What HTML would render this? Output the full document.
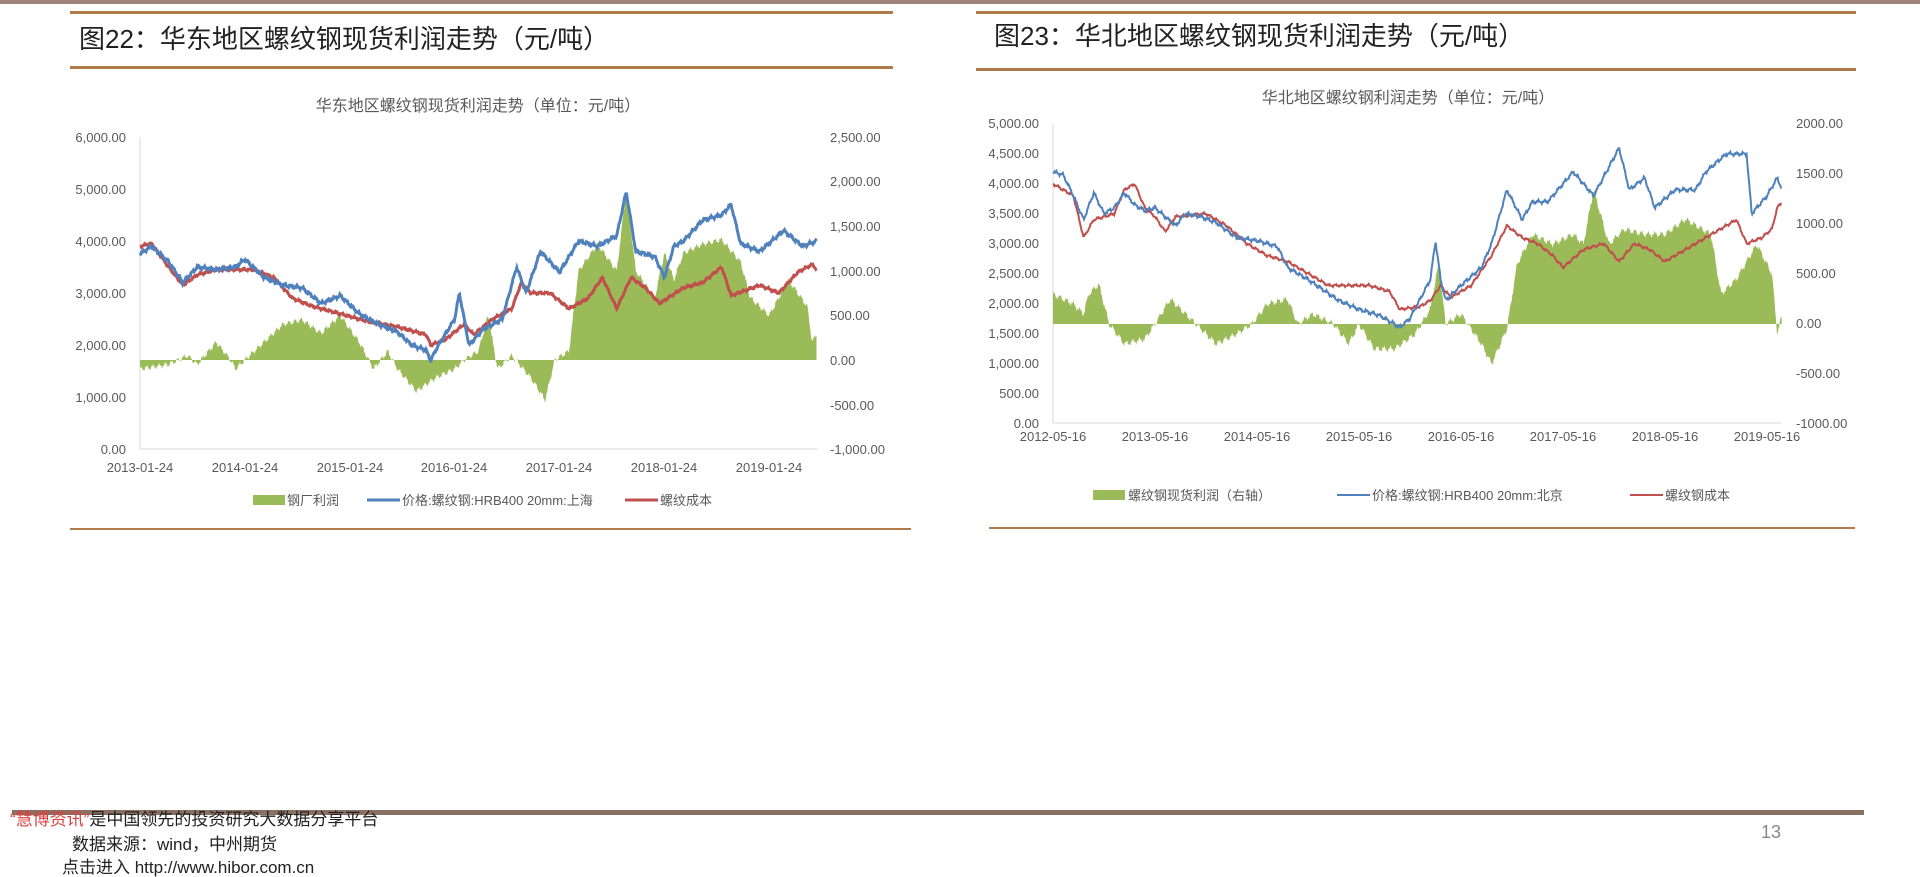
<!DOCTYPE html>
<html><head><meta charset="utf-8">
<style>
html,body{margin:0;padding:0;background:#fff;}
svg{display:block;font-family:"Liberation Sans","Noto Sans CJK SC",sans-serif;}
.t{font-size:13px;fill:#595959;}
</style></head><body>
<svg id="s" width="1920" height="877" viewBox="0 0 1920 877">
<rect x="0" y="0" width="1920" height="4" fill="#9c8478"/>
<!-- left panel -->
<rect x="70" y="11" width="823" height="3" fill="#b07b4a"/>
<text x="79" y="48" font-size="26" fill="#222">图22：华东地区螺纹钢现货利润走势（元/吨）</text>
<rect x="70" y="66" width="823" height="3" fill="#b07b4a"/>
<text x="478" y="111" font-size="16" fill="#595959" text-anchor="middle">华东地区螺纹钢现货利润走势（单位：元/吨）</text>
<line x1="140" y1="137" x2="140" y2="449" stroke="#d9d9d9"/>
<line x1="140" y1="449" x2="818" y2="449" stroke="#d9d9d9"/>
<g class="t" text-anchor="end">
<text x="126" y="142">6,000.00</text><text x="126" y="194">5,000.00</text><text x="126" y="246">4,000.00</text><text x="126" y="298">3,000.00</text><text x="126" y="350">2,000.00</text><text x="126" y="402">1,000.00</text><text x="126" y="454">0.00</text>
</g>
<g class="t">
<text x="830" y="142">2,500.00</text><text x="830" y="186">2,000.00</text><text x="830" y="231">1,500.00</text><text x="830" y="276">1,000.00</text><text x="830" y="320">500.00</text><text x="830" y="365">0.00</text><text x="830" y="410">-500.00</text><text x="830" y="454">-1,000.00</text>
</g>
<g class="t" text-anchor="middle">
<text x="140" y="472">2013-01-24</text><text x="245" y="472">2014-01-24</text><text x="350" y="472">2015-01-24</text><text x="454" y="472">2016-01-24</text><text x="559" y="472">2017-01-24</text><text x="664" y="472">2018-01-24</text><text x="769" y="472">2019-01-24</text>
</g>
<g class="t">
<rect x="253" y="495" width="32" height="10" fill="#9bbb59"/><text x="287" y="505">钢厂利润</text>
<line x1="367" y1="500" x2="400" y2="500" stroke="#4f81bd" stroke-width="3"/><text x="402" y="505">价格:螺纹钢:HRB400 20mm:上海</text>
<line x1="625" y1="500" x2="658" y2="500" stroke="#c0504d" stroke-width="3"/><text x="660" y="505">螺纹成本</text>
</g>
<rect x="70" y="528" width="841" height="2" fill="#b07b4a"/>
<!-- right panel -->
<rect x="976" y="11" width="880" height="3" fill="#b07b4a"/>
<text x="994" y="45" font-size="26" fill="#222">图23：华北地区螺纹钢现货利润走势（元/吨）</text>
<rect x="976" y="68" width="880" height="3" fill="#b07b4a"/>
<text x="1408" y="103" font-size="16" fill="#595959" text-anchor="middle">华北地区螺纹钢利润走势（单位：元/吨）</text>
<line x1="1053" y1="124" x2="1053" y2="423" stroke="#d9d9d9"/>
<line x1="1053" y1="423" x2="1781" y2="423" stroke="#d9d9d9"/>
<g class="t" text-anchor="end">
<text x="1039" y="128">5,000.00</text><text x="1039" y="158">4,500.00</text><text x="1039" y="188">4,000.00</text><text x="1039" y="218">3,500.00</text><text x="1039" y="248">3,000.00</text><text x="1039" y="278">2,500.00</text><text x="1039" y="308">2,000.00</text><text x="1039" y="338">1,500.00</text><text x="1039" y="368">1,000.00</text><text x="1039" y="398">500.00</text><text x="1039" y="428">0.00</text>
</g>
<g class="t">
<text x="1796" y="128">2000.00</text><text x="1796" y="178">1500.00</text><text x="1796" y="228">1000.00</text><text x="1796" y="278">500.00</text><text x="1796" y="328">0.00</text><text x="1796" y="378">-500.00</text><text x="1796" y="428">-1000.00</text>
</g>
<g class="t" text-anchor="middle">
<text x="1053" y="441">2012-05-16</text><text x="1155" y="441">2013-05-16</text><text x="1257" y="441">2014-05-16</text><text x="1359" y="441">2015-05-16</text><text x="1461" y="441">2016-05-16</text><text x="1563" y="441">2017-05-16</text><text x="1665" y="441">2018-05-16</text><text x="1767" y="441">2019-05-16</text>
</g>
<g class="t">
<rect x="1093" y="490" width="32" height="10" fill="#9bbb59"/><text x="1128" y="500">螺纹钢现货利润（右轴）</text>
<line x1="1337" y1="495" x2="1370" y2="495" stroke="#4f81bd" stroke-width="2"/><text x="1372" y="500">价格:螺纹钢:HRB400 20mm:北京</text>
<line x1="1630" y1="495" x2="1663" y2="495" stroke="#c0504d" stroke-width="2"/><text x="1665" y="500">螺纹钢成本</text>
</g>
<rect x="989" y="527" width="866" height="2" fill="#b07b4a"/>
<g id="series"></g>
<!-- footer -->
<rect x="12" y="810" width="1852" height="5" fill="#8a6f63"/>
<text x="10" y="825" font-size="17" fill="#222"><tspan fill="#e04040">“慧博资讯”</tspan>是中国领先的投资研究大数据分享平台</text>
<text x="72" y="850" font-size="17" fill="#222">数据来源：wind，中州期货</text>
<text x="62" y="873" font-size="17" fill="#222">点击进入 http://www.hibor.com.cn</text>
<text x="1761" y="838" font-size="18" fill="#888">13</text>
</svg>
<script>
function gen(k,amp,seed){var pts=[];for(var t=k[0][0];t<=k[k.length-1][0]+1e-9;t+=0.008){var i=0;while(i<k.length-2&&k[i+1][0]<t)i++;var a=k[i],b=k[i+1];var f=(t-a[0])/(b[0]-a[0]);var v=a[1]+(b[1]-a[1])*f;v+=amp*(Math.sin(t*97+seed)*0.6+Math.sin(t*311+seed*2)*0.4);pts.push([t,v]);}return pts;}
function P(a){return a.map(function(p){return p[0].toFixed(1)+","+p[1].toFixed(1)}).join(" ");}
var g=document.getElementById("series"),h="";
function chart(x0,px,yL0,sL,yR0,sR,blue,red,green,lw){
 var gp=gen(green,40,1).map(function(p){return [x0+p[0]*px,yR0-p[1]*sR]});
 h+='<polygon fill="#9bbb59" points="'+gp[0][0]+','+yR0+' '+P(gp)+' '+gp[gp.length-1][0]+','+yR0+'"/>';
 var rp=gen(red,25,3).map(function(p){return [x0+p[0]*px,yL0-p[1]*sL]});
 var bp=gen(blue,35,5).map(function(p){return [x0+p[0]*px,yL0-p[1]*sL]});
 h+='<polyline fill="none" stroke="#c0504d" stroke-width="'+lw+'" points="'+P(rp)+'"/>';
 h+='<polyline fill="none" stroke="#4f81bd" stroke-width="'+lw+'" points="'+P(bp)+'"/>';
}
chart(140,105*0.908,449,0.052,360,0.0891,
[[0,3750],[0.12,3900],[0.3,3600],[0.45,3200],[0.6,3500],[0.8,3450],[1.0,3500],[1.1,3650],[1.3,3300],[1.5,3150],[1.7,3100],[1.9,2800],[2.1,2950],[2.3,2600],[2.5,2400],[2.7,2250],[2.85,2000],[3.0,1900],[3.05,1700],[3.1,1900],[3.3,2500],[3.35,3000],[3.45,2000],[3.6,2300],[3.8,2500],[3.95,3500],[4.05,3000],[4.2,3800],[4.4,3400],[4.6,4000],[4.8,3900],[5.0,4100],[5.1,4950],[5.2,3800],[5.4,3700],[5.5,3300],[5.6,3900],[5.7,4000],[5.9,4400],[6.1,4500],[6.2,4700],[6.3,3950],[6.5,3800],[6.75,4200],[6.95,3900],[7.1,4000]],
[[0,3900],[0.12,3950],[0.3,3500],[0.45,3150],[0.6,3350],[0.8,3450],[1.2,3450],[1.4,3300],[1.6,2900],[1.8,2750],[2.1,2600],[2.4,2450],[2.7,2350],[3.0,2200],[3.05,2000],[3.2,2100],[3.4,2400],[3.5,2200],[3.7,2500],[3.9,2700],[4.0,3200],[4.1,3000],[4.3,3000],[4.5,2700],[4.7,2900],[4.85,3300],[5.0,2700],[5.15,3300],[5.3,3100],[5.45,2800],[5.7,3100],[5.9,3200],[6.1,3500],[6.2,2950],[6.5,3150],[6.7,3000],[6.9,3400],[7.05,3550],[7.1,3450]],
[[0,-100],[0.3,-50],[0.5,50],[0.6,-50],[0.8,200],[0.95,0],[1.0,-100],[1.2,100],[1.3,200],[1.5,400],[1.7,450],[1.9,300],[2.1,500],[2.3,200],[2.45,-100],[2.6,100],[2.7,-100],[2.9,-350],[3.1,-200],[3.3,-100],[3.4,0],[3.55,100],[3.65,500],[3.75,-100],[3.9,50],[4.1,-200],[4.25,-450],[4.35,0],[4.5,100],[4.6,1000],[4.8,1300],[5.0,1000],[5.1,1900],[5.2,1000],[5.4,700],[5.5,1200],[5.6,900],[5.7,1200],[5.9,1300],[6.1,1350],[6.3,1100],[6.4,700],[6.6,500],[6.8,900],[7.0,600],[7.05,200],[7.1,300]],3);
chart(1053,102,423,0.0598,324,0.0997,
[[0,4200],[0.1,4150],[0.2,3800],[0.3,3400],[0.4,3850],[0.5,3500],[0.6,3600],[0.7,3850],[0.8,3650],[0.9,3550],[1.0,3600],[1.2,3300],[1.3,3500],[1.45,3450],[1.6,3350],[1.8,3100],[2.0,3050],[2.2,2950],[2.3,2600],[2.5,2400],[2.8,2050],[3.0,1900],[3.2,1800],[3.4,1600],[3.5,1750],[3.7,2400],[3.75,3050],[3.8,2400],[3.85,2050],[4.0,2300],[4.2,2600],[4.3,3000],[4.45,3900],[4.6,3400],[4.7,3700],[4.85,3700],[5.1,4200],[5.3,3800],[5.55,4600],[5.65,3900],[5.8,4100],[5.9,3600],[6.1,3900],[6.3,3900],[6.4,4200],[6.6,4500],[6.8,4500],[6.85,3500],[7.0,3800],[7.1,4100],[7.15,3900]],
[[0,4000],[0.2,3800],[0.3,3100],[0.4,3400],[0.6,3500],[0.7,3900],[0.8,4000],[0.9,3600],[1.0,3450],[1.1,3200],[1.2,3450],[1.5,3500],[1.7,3300],[1.9,3000],[2.1,2800],[2.3,2700],[2.5,2500],[2.7,2300],[2.9,2300],[3.1,2300],[3.3,2200],[3.4,1900],[3.6,1950],[3.7,2050],[3.8,2300],[3.9,2100],[4.1,2300],[4.3,2800],[4.45,3300],[4.6,3100],[4.75,3000],[4.9,2800],[5.0,2600],[5.2,2900],[5.4,3000],[5.55,2700],[5.7,3000],[5.85,2900],[6.0,2700],[6.2,2900],[6.5,3200],[6.7,3400],[6.8,3000],[6.95,3100],[7.05,3250],[7.1,3600],[7.15,3700]],
[[0,300],[0.2,200],[0.3,100],[0.35,300],[0.45,400],[0.55,0],[0.7,-200],[0.9,-150],[1.0,0],[1.15,250],[1.3,100],[1.45,-50],[1.6,-200],[1.8,-100],[1.95,0],[2.1,200],[2.3,250],[2.4,0],[2.55,100],[2.75,0],[2.9,-200],[3.0,0],[3.15,-250],[3.35,-250],[3.55,-100],[3.7,150],[3.78,600],[3.85,0],[4.0,100],[4.2,-200],[4.3,-400],[4.45,-50],[4.55,600],[4.7,900],[4.9,800],[5.1,900],[5.2,800],[5.3,1350],[5.45,800],[5.6,950],[5.8,900],[6.0,900],[6.2,1050],[6.45,900],[6.55,300],[6.7,450],[6.9,800],[7.05,500],[7.1,-100],[7.15,100]],2);
g.innerHTML=h;
</script>
</body></html>
